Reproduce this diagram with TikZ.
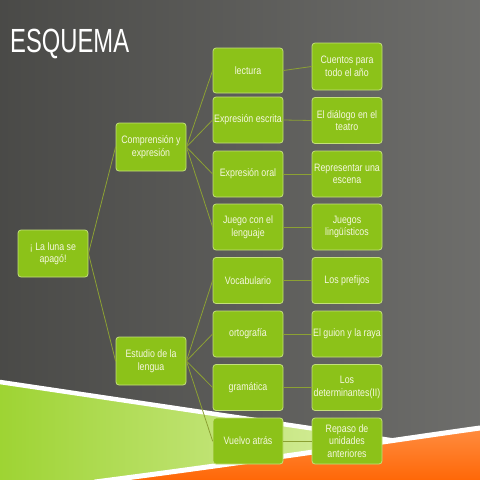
\documentclass[tikz,border=0pt]{standalone}
\usepackage{fontspec}
\usepackage{tikz}
\newfontfamily\titlefont[FakeStretch=0.71]{Liberation Sans}
\newfontfamily\boxfont[FakeStretch=0.82]{Liberation Sans}
\definecolor{bgleft}{rgb}{0.29,0.29,0.28}
\definecolor{bgright}{rgb}{0.43,0.43,0.42}
\definecolor{boxfill}{rgb}{0.55,0.76,0.1}
\definecolor{boxline}{rgb}{0.77,0.88,0.48}
\definecolor{boxtext}{rgb}{0.96,0.97,0.88}
\definecolor{linkcol}{rgb}{0.55,0.63,0.2}
\definecolor{lime}{rgb}{0.62,0.83,0.2}
\definecolor{limepale}{rgb}{0.86,0.94,0.66}
\definecolor{orangetop}{rgb}{1,0.55,0.25}
\definecolor{orangebot}{rgb}{1,0.4,0.02}
\tikzset{
  smbox/.style={draw=boxline,line width=0.8pt,fill=boxfill,rounded corners=3pt,
    minimum width=70pt,minimum height=46pt,inner sep=1pt,align=center,
    text=boxtext,font=\boxfont\fontsize{10.75}{12.5}\selectfont},
  link/.style={draw=linkcol,line width=0.8pt}
}
\begin{document}
\begin{tikzpicture}[line cap=round,line join=round,x=1pt,y=-1pt]
\useasboundingbox (0,0) rectangle (480,480);
% background
\shade[left color=bgleft,right color=bgright] (0,0) rectangle (480,480);
\shade[left color=lime,right color=limepale] (0,382) -- (394,440.6) -- (394,480) -- (0,480) -- cycle;
\shade[top color=orangetop,bottom color=orangebot] (95,482) .. controls (250,462) and (380,442) .. (480,428) -- (480,482) -- cycle;
\draw[white,line width=4.5pt] (0,382) -- (394,440.6);
\draw[white,line width=5pt] (95,482) .. controls (250,462) and (380,442) .. (480,428);
% title
\node[anchor=base west,inner sep=0,text=white,font=\titlefont\fontsize{33.5}{36}\selectfont] (title) at (10,52) {ESQUEMA};

% boxes
\node[smbox,minimum height=47pt] (luna) at (53,253.5) {¡ La luna se\\apagó!};
\node[smbox,minimum height=48pt] (comp) at (151,147) {Comprensión y\\expresión};
\node[smbox,minimum height=48pt] (estudio) at (151,361) {Estudio de la\\lengua};

\node[smbox,minimum height=45pt] (lectura) at (248,70.5) {lectura};
\node[smbox] (escrita) at (248,120) {Expresión escrita};
\node[smbox] (oral) at (248,174) {Expresión oral};
\node[smbox] (juego) at (248,227) {Juego con el\\lenguaje};
\node[smbox] (vocab) at (248,280.5) {Vocabulario};
\node[smbox] (orto) at (248,334) {ortografía};
\node[smbox] (gram) at (248,387.5) {gramática};
\node[smbox] (vuelvo) at (248,441) {Vuelvo atrás};

\node[smbox,minimum height=47pt] (cuentos) at (347,66.5) {Cuentos para\\todo el año};
\node[smbox] (dialogo) at (347,120.5) {El diálogo en el\\teatro};
\node[smbox] (escena) at (347,174) {Representar una\\escena};
\node[smbox] (juegos) at (347,227) {Juegos\\lingüísticos};
\node[smbox] (prefijos) at (347,280.5) {Los prefijos};
\node[smbox] (guion) at (347,334) {El guion y la raya};
\node[smbox] (determ) at (347,387.5) {Los\\determinantes(II)};
\node[smbox] (repaso) at (347,441) {Repaso de\\unidades\\anteriores};

% connectors
\draw[link] (luna.east) -- (comp.west);
\draw[link] (luna.east) -- (estudio.west);
\draw[link] (comp.east) -- (lectura.west);
\draw[link] (comp.east) -- (escrita.west);
\draw[link] (comp.east) -- (oral.west);
\draw[link] (comp.east) -- (juego.west);
\draw[link] (estudio.east) -- (vocab.west);
\draw[link] (estudio.east) -- (orto.west);
\draw[link] (estudio.east) -- (gram.west);
\draw[link] (estudio.east) -- (vuelvo.west);
\draw[link] (lectura.east) -- (cuentos.west);
\draw[link] (escrita.east) -- (dialogo.west);
\draw[link] (oral.east) -- (escena.west);
\draw[link] (juego.east) -- (juegos.west);
\draw[link] (vocab.east) -- (prefijos.west);
\draw[link] (orto.east) -- (guion.west);
\draw[link] (gram.east) -- (determ.west);
\draw[link] (vuelvo.east) -- (repaso.west);
\end{tikzpicture}
\end{document}
